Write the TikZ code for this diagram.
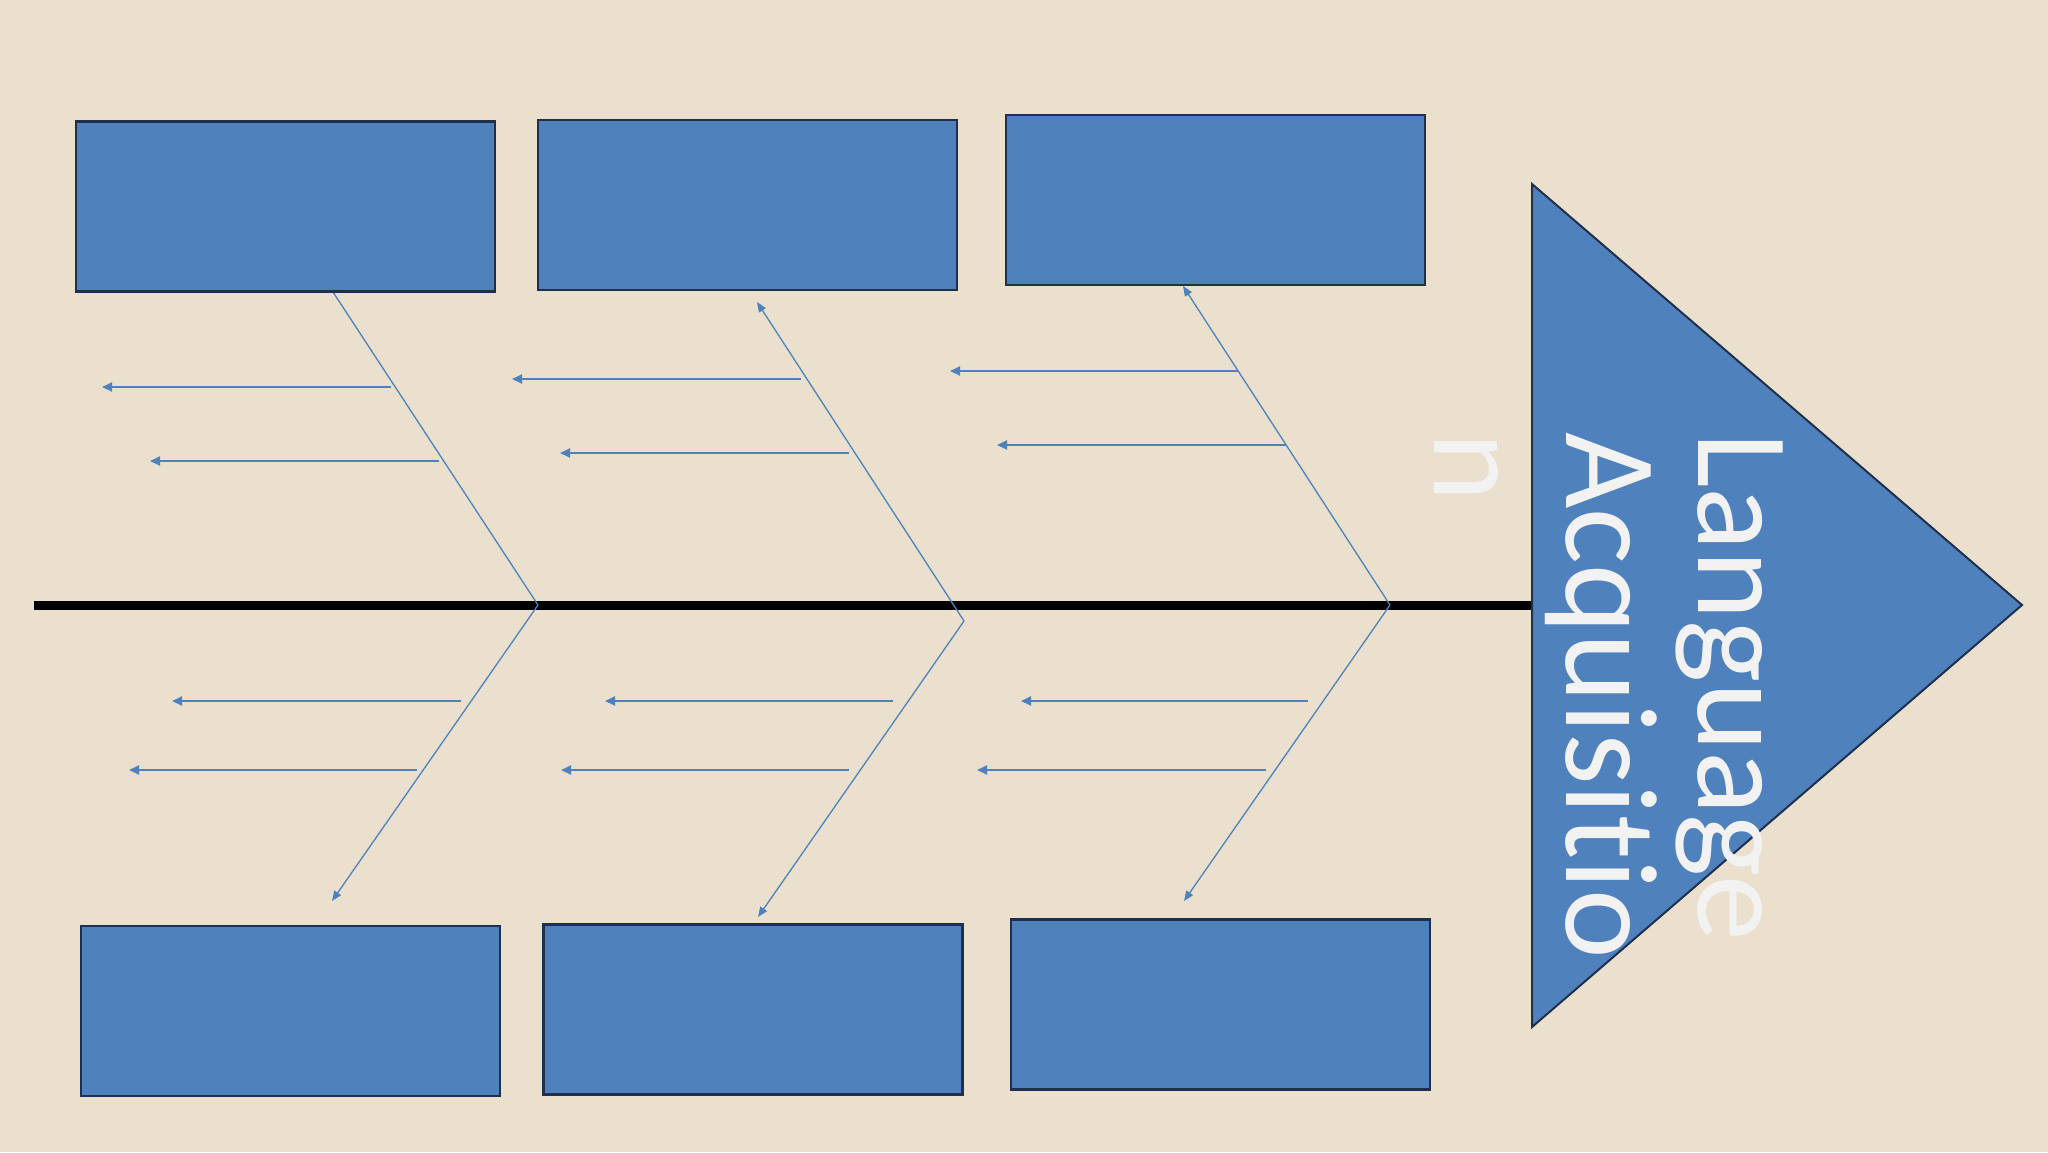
\documentclass[tikz,border=0pt]{standalone}
\usepackage{fontspec}
\setmainfont{Carlito}[Ligatures={NoCommon}]
\usetikzlibrary{arrows.meta}
\definecolor{bg}{RGB}{234,224,205}
\definecolor{boxblue}{RGB}{79,129,189}
\definecolor{boxedge}{RGB}{30,48,78}
\definecolor{txt}{RGB}{242,242,242}
\begin{document}
\begin{tikzpicture}[x=1pt,y=-1pt,
  causebox/.style={draw=boxedge,line width=2.5pt,fill=boxblue,minimum width=419pt,minimum height=170pt,inner sep=0pt},
  bone/.style={draw=boxblue,line width=1.3pt},
  bonearrow/.style={bone,-{Triangle[length=10pt,width=8pt]}},
  rib/.style={draw=boxblue,line width=2pt,-{Triangle[length=10pt,width=9pt]}},
  spine/.style={draw=black,line width=9pt}]
\fill[bg] (0,0) rectangle (2048,1152);
\useasboundingbox (0,0) rectangle (2048,1152);

% junctions and ends
\coordinate (tail) at (34,605);
\coordinate (head) at (1532,605);
\coordinate (j1) at (538,605);
\coordinate (j2) at (964,621);
\coordinate (j3) at (1390,605);
\coordinate (t1) at (333,292);
\coordinate (t2) at (757,302);
\coordinate (t3) at (1183,286);
\coordinate (u1) at (332,901);
\coordinate (u2) at (758,917);
\coordinate (u3) at (1184,901);

% rib end points
\coordinate (r1a) at (391,387);  \coordinate (r1b) at (102,387);
\coordinate (r2a) at (439,461);  \coordinate (r2b) at (150,461);
\coordinate (r3a) at (801,379);  \coordinate (r3b) at (512,379);
\coordinate (r4a) at (849,453);  \coordinate (r4b) at (560,453);
\coordinate (r5a) at (1238,371); \coordinate (r5b) at (950,371);
\coordinate (r6a) at (1286,445); \coordinate (r6b) at (997,445);
\coordinate (r7a) at (461,701);  \coordinate (r7b) at (172,701);
\coordinate (r8a) at (417,770);  \coordinate (r8b) at (129,770);
\coordinate (r9a) at (893,701);  \coordinate (r9b) at (605,701);
\coordinate (r10a) at (849,770); \coordinate (r10b) at (561,770);
\coordinate (r11a) at (1308,701);\coordinate (r11b) at (1021,701);
\coordinate (r12a) at (1266,770);\coordinate (r12b) at (977,770);

% spine
\draw[spine] (tail) -- (head);

% bones
\draw[bone] (j1) -- (t1);
\draw[bonearrow] (j2) -- (t2);
\draw[bonearrow] (j3) -- (t3);
\draw[bonearrow] (j1) -- (u1);
\draw[bonearrow] (j2) -- (u2);
\draw[bonearrow] (j3) -- (u3);

% ribs
\foreach \i in {1,...,12} \draw[rib] (r\i a) -- (r\i b);

% cause boxes
\node[causebox] (b1) at (285.4,206.4) {};
\node[causebox] (b2) at (747.7,205.1) {};
\node[causebox] (b3) at (1215.4,199.8) {};
\node[causebox] (b4) at (290.6,1010.9) {};
\node[causebox] (b5) at (753.0,1009.6) {};
\node[causebox] (b6) at (1220.5,1004.4) {};

% head triangle
\draw[draw=boxedge,line width=2pt,fill=boxblue,line join=miter] (1532,184) -- (1532,1027) -- (2022,605) -- cycle;

% effect text
\node (effect) [rotate=-90, anchor=north west, inner sep=0pt, align=left, text=txt,
  font=\fontsize{132}{132}\selectfont] at (1783,432) {Language\\Acquisitio\\n};
\end{tikzpicture}
\end{document}
